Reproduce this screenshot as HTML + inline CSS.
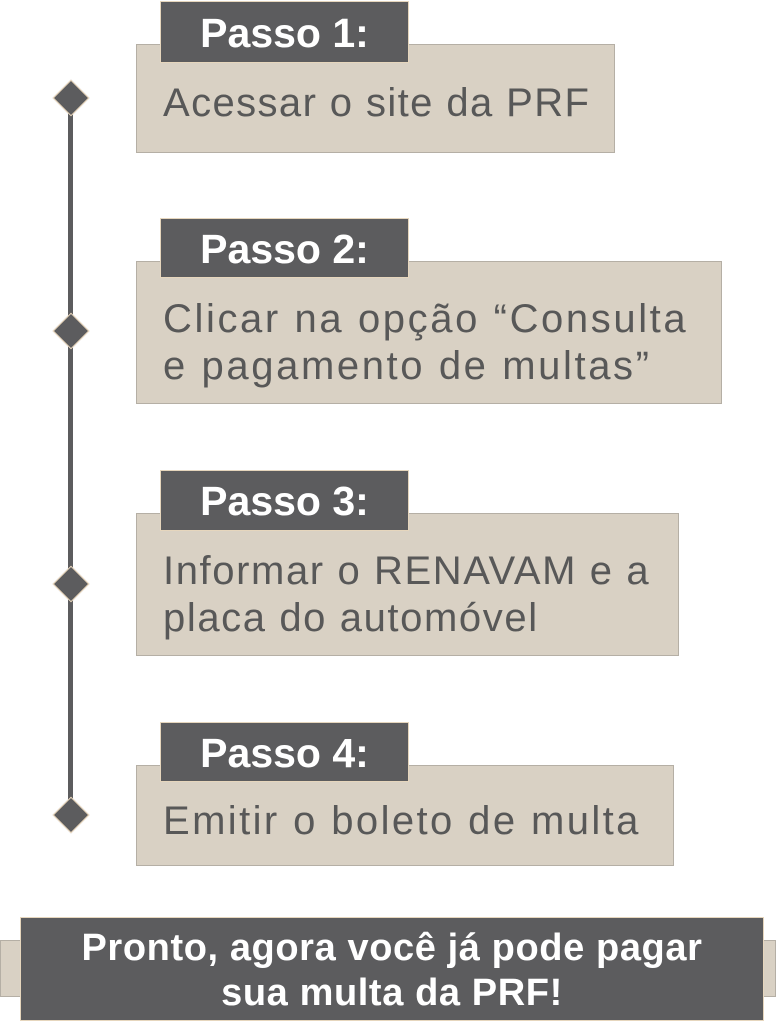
<!DOCTYPE html>
<html><head><meta charset="utf-8"><style>
body{margin:0;width:776px;height:1024px;background:#fff;position:relative;overflow:hidden;font-family:"Liberation Sans",sans-serif}
.a{position:absolute}
.box{position:absolute;background:#d9d1c4;border:1px solid #b5afa5;box-sizing:border-box}
.hd{position:absolute;background:#5c5c5e;border:1px solid #e6d6bd;box-sizing:border-box;color:#fff;font-weight:bold;font-size:41px;text-align:center;letter-spacing:0}
.tx{position:absolute;color:#585858;font-size:40px;line-height:47px;letter-spacing:2.2px;white-space:nowrap}
.dm{position:absolute;width:24px;height:24px;background:#5c5c5e;border:1px solid #f0dcc0;transform:rotate(45deg)}
</style></head><body>
<div class="a" style="left:68px;top:98px;width:5px;height:717px;background:#5c5c5e"></div>
<div class="dm" style="left:58px;top:85px"></div>
<div class="dm" style="left:58px;top:318px"></div>
<div class="dm" style="left:58px;top:571px"></div>
<div class="dm" style="left:58px;top:802px"></div>

<div class="box" style="left:136px;top:44px;width:479px;height:109px"></div>
<div class="hd" style="left:160px;top:1px;width:249px;height:62px;line-height:62px">Passo 1:</div>
<div class="tx" style="left:163px;top:80px;letter-spacing:1.4px">Acessar o site da PRF</div>

<div class="box" style="left:136px;top:261px;width:586px;height:143px"></div>
<div class="hd" style="left:160px;top:218px;width:249px;height:60px;line-height:60px">Passo 2:</div>
<div class="tx" style="left:163px;top:296px;letter-spacing:2.6px">Clicar na opção “Consulta<br>e pagamento de multas”</div>

<div class="box" style="left:136px;top:513px;width:543px;height:143px"></div>
<div class="hd" style="left:160px;top:470px;width:249px;height:61px;line-height:61px">Passo 3:</div>
<div class="tx" style="left:163px;top:548px;letter-spacing:1.6px">Informar o RENAVAM e a<br>placa do automóvel</div>

<div class="box" style="left:136px;top:765px;width:538px;height:101px"></div>
<div class="hd" style="left:160px;top:722px;width:249px;height:60px;line-height:60px">Passo 4:</div>
<div class="tx" style="left:163px;top:798px;letter-spacing:2.4px">Emitir o boleto de multa</div>

<div class="box" style="left:0;top:940px;width:776px;height:57px"></div>
<div class="hd" style="left:20px;top:917px;width:744px;height:104px;font-size:38px;line-height:45px;padding-top:8px;letter-spacing:0.6px">Pronto, agora você já pode pagar<br>sua multa da PRF!</div>
</body></html>
